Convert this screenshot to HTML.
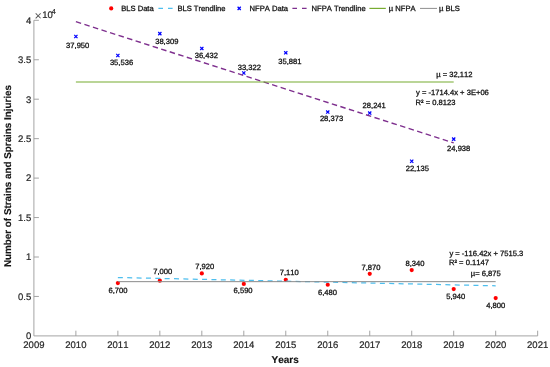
<!DOCTYPE html>
<html><head><meta charset="utf-8"><title>Strains and Sprains Injuries</title>
<style>html,body{margin:0;padding:0;background:#fff}svg{display:block;text-rendering:geometricPrecision;font-kerning:none}</style></head>
<body>
<svg width="550" height="367" viewBox="0 0 550 367" font-family="'Liberation Sans', sans-serif">
<rect width="550" height="367" fill="#fff"/>
<g stroke="#9a9a9a" stroke-width="0.9" fill="none">
<path d="M33.90 20.30V335.90H537.66"/>
<path d="M33.90 296.45h5"/>
<path d="M33.90 257.00h5"/>
<path d="M33.90 217.55h5"/>
<path d="M33.90 178.10h5"/>
<path d="M33.90 138.65h5"/>
<path d="M33.90 99.20h5"/>
<path d="M33.90 59.75h5"/>
<path d="M33.90 20.30h5"/>
<path d="M75.88 335.90v-5.2"/>
<path d="M117.86 335.90v-5.2"/>
<path d="M159.84 335.90v-5.2"/>
<path d="M201.82 335.90v-5.2"/>
<path d="M243.80 335.90v-5.2"/>
<path d="M285.78 335.90v-5.2"/>
<path d="M327.76 335.90v-5.2"/>
<path d="M369.74 335.90v-5.2"/>
<path d="M411.72 335.90v-5.2"/>
<path d="M453.70 335.90v-5.2"/>
<path d="M495.68 335.90v-5.2"/>
<path d="M537.66 335.90v-5.2"/>
</g>
<g fill="#262626" stroke="#262626" stroke-width="0.2" font-size="9.5">
<text x="31.20" y="339.20" text-anchor="end">0</text>
<text x="31.20" y="299.75" text-anchor="end">0.5</text>
<text x="31.20" y="260.30" text-anchor="end">1</text>
<text x="31.20" y="220.85" text-anchor="end">1.5</text>
<text x="31.20" y="181.40" text-anchor="end">2</text>
<text x="31.20" y="141.95" text-anchor="end">2.5</text>
<text x="31.20" y="102.50" text-anchor="end">3</text>
<text x="31.20" y="63.05" text-anchor="end">3.5</text>
<text x="31.20" y="23.60" text-anchor="end">4</text>
<text x="33.90" y="347.60" text-anchor="middle">2009</text>
<text x="75.88" y="347.60" text-anchor="middle">2010</text>
<text x="117.86" y="347.60" text-anchor="middle">2011</text>
<text x="159.84" y="347.60" text-anchor="middle">2012</text>
<text x="201.82" y="347.60" text-anchor="middle">2013</text>
<text x="243.80" y="347.60" text-anchor="middle">2014</text>
<text x="285.78" y="347.60" text-anchor="middle">2015</text>
<text x="327.76" y="347.60" text-anchor="middle">2016</text>
<text x="369.74" y="347.60" text-anchor="middle">2017</text>
<text x="411.72" y="347.60" text-anchor="middle">2018</text>
<text x="453.70" y="347.60" text-anchor="middle">2019</text>
<text x="495.68" y="347.60" text-anchor="middle">2020</text>
<text x="537.66" y="347.60" text-anchor="middle">2021</text>
<text x="34.4" y="20.3" font-size="12.5" fill="#555" stroke="none">×</text>
<text x="42.2" y="18.2">10</text>
<text x="51.7" y="13.7" font-size="7.2">4</text>
</g>
<text x="285.2" y="363.2" text-anchor="middle" font-size="10" font-weight="bold" fill="#151515" stroke="#151515" stroke-width="0.15">Years</text>
<text transform="translate(11.4,176) rotate(-90)" text-anchor="middle" font-size="9.86" font-weight="bold" fill="#151515" stroke="#151515" stroke-width="0.15">Number of Strains and Sprains Injuries</text>
<circle cx="117.86" cy="283.04" r="2.1" fill="#ff0000"/>
<circle cx="159.84" cy="280.67" r="2.1" fill="#ff0000"/>
<circle cx="201.82" cy="273.41" r="2.1" fill="#ff0000"/>
<circle cx="243.80" cy="283.90" r="2.1" fill="#ff0000"/>
<circle cx="285.78" cy="279.80" r="2.1" fill="#ff0000"/>
<circle cx="327.76" cy="284.77" r="2.1" fill="#ff0000"/>
<circle cx="369.74" cy="273.81" r="2.1" fill="#ff0000"/>
<circle cx="411.72" cy="270.10" r="2.1" fill="#ff0000"/>
<circle cx="453.70" cy="289.03" r="2.1" fill="#ff0000"/>
<circle cx="495.68" cy="298.03" r="2.1" fill="#ff0000"/>
<path d="M117.86 277.52L495.68 285.79" stroke="#4dbeee" stroke-width="1.25" stroke-dasharray="5 4.36" fill="none"/>
<path d="M74.28 34.87l3.2 3.2M74.28 38.07l3.2 -3.2" stroke="#0000ff" stroke-width="1.25" fill="none"/>
<path d="M116.26 53.92l3.2 3.2M116.26 57.12l3.2 -3.2" stroke="#0000ff" stroke-width="1.25" fill="none"/>
<path d="M158.24 32.04l3.2 3.2M158.24 35.24l3.2 -3.2" stroke="#0000ff" stroke-width="1.25" fill="none"/>
<path d="M200.22 46.85l3.2 3.2M200.22 50.05l3.2 -3.2" stroke="#0000ff" stroke-width="1.25" fill="none"/>
<path d="M242.20 71.39l3.2 3.2M242.20 74.59l3.2 -3.2" stroke="#0000ff" stroke-width="1.25" fill="none"/>
<path d="M284.18 51.20l3.2 3.2M284.18 54.40l3.2 -3.2" stroke="#0000ff" stroke-width="1.25" fill="none"/>
<path d="M326.16 110.44l3.2 3.2M326.16 113.64l3.2 -3.2" stroke="#0000ff" stroke-width="1.25" fill="none"/>
<path d="M368.14 111.48l3.2 3.2M368.14 114.68l3.2 -3.2" stroke="#0000ff" stroke-width="1.25" fill="none"/>
<path d="M410.12 159.65l3.2 3.2M410.12 162.85l3.2 -3.2" stroke="#0000ff" stroke-width="1.25" fill="none"/>
<path d="M452.10 137.54l3.2 3.2M452.10 140.74l3.2 -3.2" stroke="#0000ff" stroke-width="1.25" fill="none"/>
<path d="M75.88 21.67L453.70 142.91" stroke="#7e2f8e" stroke-width="1.4" stroke-dasharray="5.5 3.46" fill="none"/>
<path d="M75.88 82.0H453.70" stroke="#77ac30" stroke-width="1.2" fill="none"/>
<path d="M117.86 281.66H495.68" stroke="#8a8a8a" stroke-width="1" fill="none"/>
<g fill="#151515" stroke="#151515" stroke-width="0.3" font-size="7.6" text-anchor="middle">
<text x="77.70" y="48.30">37,950</text>
<text x="121.50" y="64.70">35,536</text>
<text x="166.80" y="43.90">38,309</text>
<text x="206.30" y="58.30">36,432</text>
<text x="249.30" y="69.70">33,322</text>
<text x="289.90" y="63.70">35,881</text>
<text x="331.50" y="121.30">28,373</text>
<text x="374.20" y="107.90">28,241</text>
<text x="417.30" y="170.70">22,135</text>
<text x="458.70" y="150.90">24,938</text>
<text x="118.00" y="292.90">6,700</text>
<text x="162.80" y="273.90">7,000</text>
<text x="204.80" y="268.70">7,920</text>
<text x="243.10" y="293.30">6,590</text>
<text x="289.20" y="274.90">7,110</text>
<text x="327.50" y="294.90">6,480</text>
<text x="371.00" y="269.90">7,870</text>
<text x="415.00" y="266.30">8,340</text>
<text x="455.70" y="299.30">5,940</text>
<text x="495.70" y="307.70">4,800</text>
</g>
<g fill="#151515" stroke="#151515" stroke-width="0.3" font-size="7.6">
<text x="436.2" y="77.4">µ = 32,112</text>
<text x="416" y="95.4">y = -1714.4x + 3E+06</text>
<text x="415.6" y="104.9">R² = 0.8123</text>
<text x="449.4" y="256">y = -116.42x + 7515.3</text>
<text x="449" y="265.2">R² = 0.1147</text>
<text x="470.8" y="275.6">µ= 6,875</text>
</g>
<g fill="#151515" stroke="#151515" stroke-width="0.3" font-size="7.6">
<circle cx="111.2" cy="8.4" r="2.1" fill="#ff0000" stroke="none"/>
<text x="121.2" y="11.0">BLS Data</text>
<path d="M158.4 8.4H172.6" stroke="#4dbeee" stroke-width="1.3" stroke-dasharray="4.6 5" fill="none"/>
<text x="177.4" y="11.0">BLS Trendline</text>
<path d="M237.60 6.80l3.2 3.2M237.60 10.00l3.2 -3.2" stroke="#0000ff" stroke-width="1.25" fill="none"/>
<text x="249.6" y="11.0">NFPA Data</text>
<path d="M292.4 8.4H306.6" stroke="#7e2f8e" stroke-width="1.3" stroke-dasharray="4.6 5" fill="none"/>
<text x="311.6" y="11.0">NFPA Trendline</text>
<path d="M369.4 8.4H385.8" stroke="#77ac30" stroke-width="1.2" fill="none"/>
<text x="388.8" y="11.0">µ NFPA</text>
<path d="M420 8.4H437" stroke="#8f8f8f" stroke-width="1" fill="none"/>
<text x="439" y="11.0">µ BLS</text>
</g>
</svg>
</body></html>
